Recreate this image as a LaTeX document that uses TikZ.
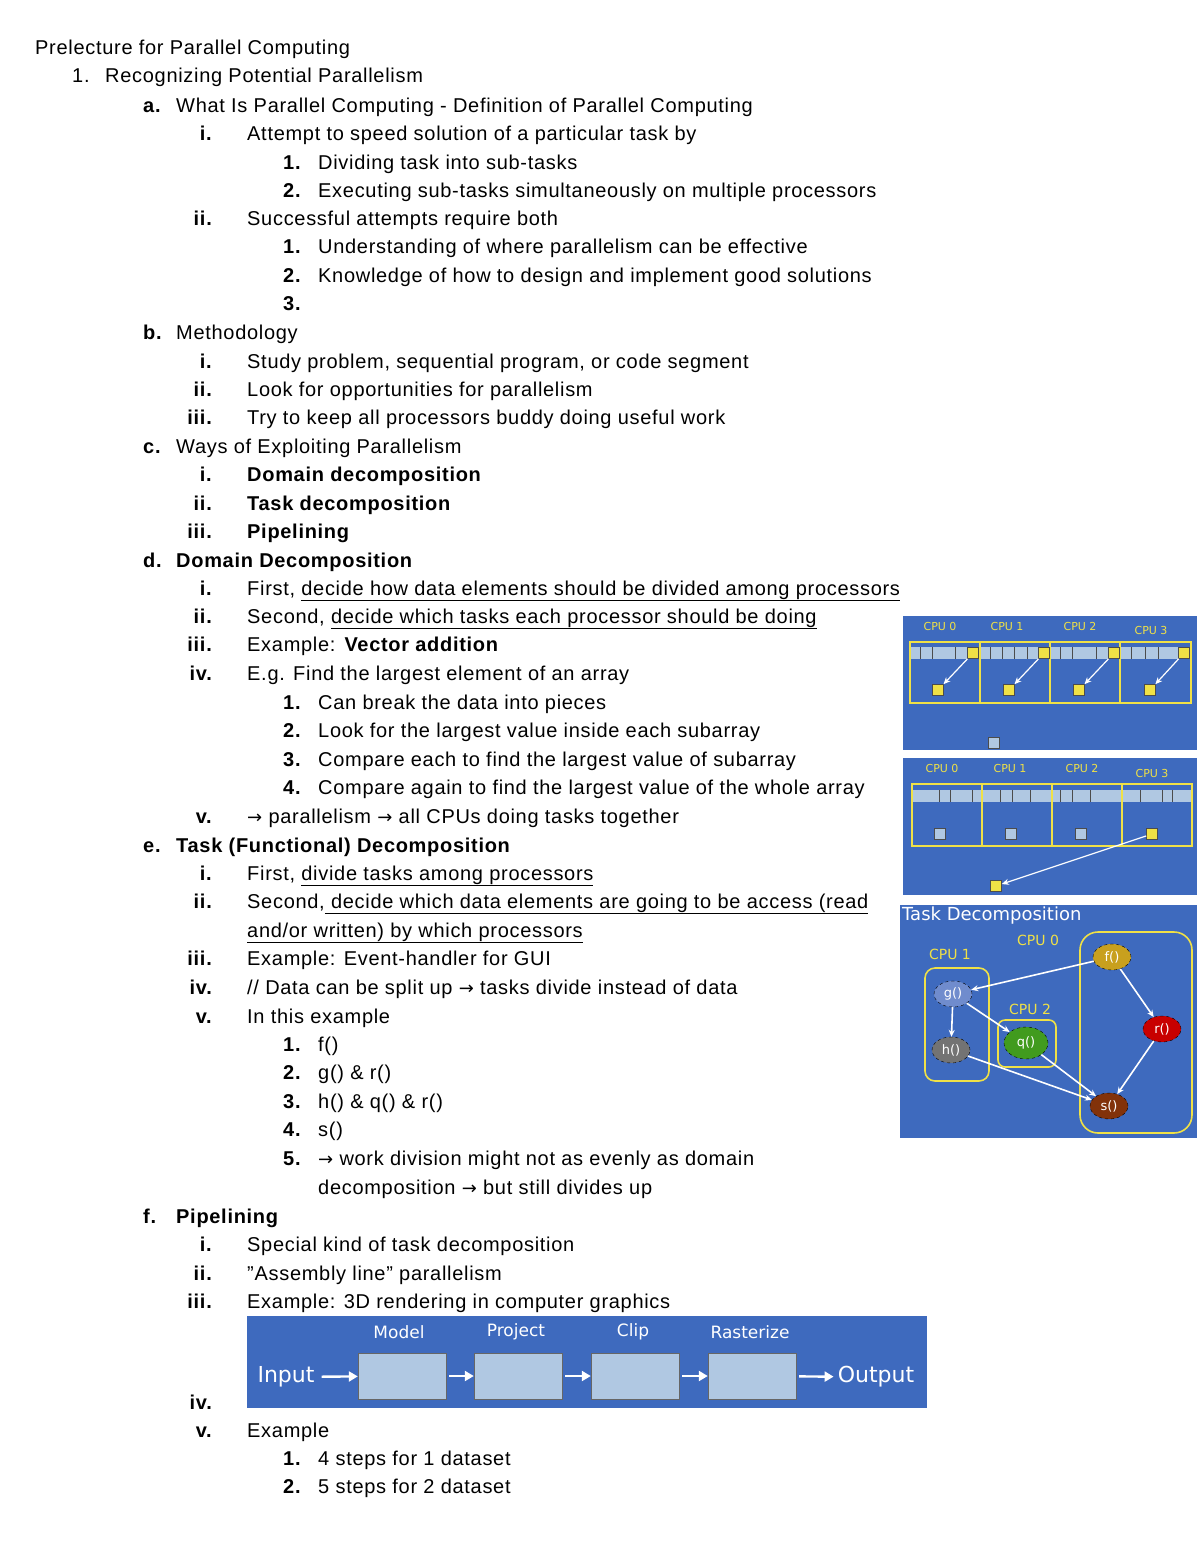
\documentclass[tikz,border=0pt]{standalone}
\usepackage{fontspec}
\setmainfont{Liberation Sans}[LetterSpace=3.5]
\newfontfamily\djv{DejaVu Sans}
\newfontfamily\arw{DejaVu Sans}
\newcommand{\ar}{{\arw\fontsize{18}{20}\selectfont →}}
\usetikzlibrary{arrows.meta,shapes.geometric}
\definecolor{pblue}{RGB}{62,106,190}
\definecolor{lb}{RGB}{176,200,226}
\definecolor{yl}{RGB}{240,225,70}
\tikzset{
 tx/.style={anchor=base west,inner sep=0pt,font=\fontsize{20}{24}\selectfont},
 lr/.style={anchor=base east,inner sep=0pt,font=\fontsize{20}{24}\selectfont\bfseries},
 lw/.style={anchor=base west,inner sep=0pt,font=\fontsize{20}{24}\selectfont\bfseries},
 cpu/.style={text=yl,font=\djv\fontsize{11}{12}\selectfont,inner sep=0pt},
 ybox/.style={draw=yl,line width=1.6pt},
 sq/.style={draw=black!70,fill=yl,minimum size=11pt,inner sep=0pt,line width=0.6pt},
 sqb/.style={draw=black!70,fill=lb,minimum size=11pt,inner sep=0pt,line width=0.6pt},
 war/.style={draw=white,line width=1.6pt,-{Stealth[length=7pt,width=6pt]}},
 par/.style={draw=white,line width=2.4pt,-{Triangle[length=9pt,width=10pt]},shorten <=3pt},
 fn/.style={ellipse,draw=black,dashed,minimum width=38pt,minimum height=26pt,inner sep=0pt,text=white,font=\djv\fontsize{13}{14}\selectfont},
 pbox/.style={draw=black!60,fill=lb,minimum width=88pt,minimum height=46pt,inner sep=0pt},
 plab/.style={text=white,font=\djv\fontsize{17}{18}\selectfont,inner sep=0pt},
}
\newcommand{\Ln}[3]{\node[tx] at (#1,#2) {#3};}
\newcommand{\Rl}[3]{\node[lr] (r#2) at (212,#1) {#3};}
\begin{document}
\begin{tikzpicture}[x=1pt,y=-1pt]
\useasboundingbox (0,0) rectangle (1200,1553);
\fill[white] (0,0) rectangle (1200,1553);
% text
\node[tx] (t0) at (35,54) {Prelecture for Parallel Computing};
\node[tx] (n1) at (72,82) {1.};
\Ln{105}{82}{Recognizing Potential Parallelism}
\node[lw] (la) at (143,112) {a.}; \Ln{176}{112}{What Is Parallel Computing - Definition of Parallel Computing}
\Rl{140}{a1}{i.} \Ln{247}{140}{Attempt to speed solution of a particular task by}
\node[lw] (x1) at (283,169) {1.}; \Ln{318}{169}{Dividing task into sub-tasks}
\node[lw] (x2) at (283,197) {2.}; \Ln{318}{197}{Executing sub-tasks simultaneously on multiple processors}
\Rl{225}{a2}{ii.} \Ln{247}{225}{Successful attempts require both}
\node[lw] (x3) at (283,253) {1.}; \Ln{318}{253}{Understanding of where parallelism can be effective}
\node[lw] (x4) at (283,282) {2.}; \Ln{318}{282}{Knowledge of how to design and implement good solutions}
\node[lw] (x5) at (283,310) {3.};
\node[lw] (lb) at (143,339) {b.}; \Ln{176}{339}{Methodology}
\Rl{368}{b1}{i.} \Ln{247}{368}{Study problem, sequential program, or code segment}
\Rl{396}{b2}{ii.} \Ln{247}{396}{Look for opportunities for parallelism}
\Rl{424}{b3}{iii.} \Ln{247}{424}{Try to keep all processors buddy doing useful work}
\node[lw] (lc) at (143,453) {c.}; \Ln{176}{453}{Ways of Exploiting Parallelism}
\Rl{481}{c1}{i.} \node[lw] at (247,481) {Domain decomposition};
\Rl{510}{c2}{ii.} \node[lw] at (247,510) {Task decomposition};
\Rl{538}{c3}{iii.} \node[lw] at (247,538) {Pipelining};
\node[lw] (ld) at (143,567) {d.}; \node[lw] at (176,567) {Domain Decomposition};
\Rl{595}{d1}{i.} \Ln{247}{595}{First, \underline{decide how data elements should be divided among processors}}
\Rl{623}{d2}{ii.} \Ln{247}{623}{Second, \underline{decide which tasks each processor should be doing}}
\Rl{651}{d3}{iii.} \Ln{247}{651}{Example: \textbf{Vector addition}}
\Rl{680}{d4}{iv.} \Ln{247}{680}{E.g. Find the largest element of an array}
\node[lw] at (283,709) {1.}; \Ln{318}{709}{Can break the data into pieces}
\node[lw] at (283,737) {2.}; \Ln{318}{737}{Look for the largest value inside each subarray}
\node[lw] at (283,766) {3.}; \Ln{318}{766}{Compare each to find the largest value of subarray}
\node[lw] at (283,794) {4.}; \Ln{318}{794}{Compare again to find the largest value of the whole array}
\Rl{823}{d5}{v.} \Ln{247}{823}{\ar{} parallelism \ar{} all CPUs doing tasks together}
\node[lw] (le) at (143,852) {e.}; \node[lw] at (176,852) {Task (Functional) Decomposition};
\Rl{880}{e1}{i.} \Ln{247}{880}{First, \underline{divide tasks among processors}}
\Rl{908}{e2}{ii.} \Ln{247}{908}{Second,\underline{ decide which data elements are going to be access (read}}
\Ln{247}{937}{\underline{and/or written) by which processors}}
\Rl{965}{e3}{iii.} \Ln{247}{965}{Example: Event-handler for GUI}
\Rl{994}{e4}{iv.} \Ln{247}{994}{// Data can be split up \ar{} tasks divide instead of data}
\Rl{1023}{e5}{v.} \Ln{247}{1023}{In this example}
\node[lw] at (283,1051) {1.}; \Ln{318}{1051}{f()}
\node[lw] at (283,1079) {2.}; \Ln{318}{1079}{g() \& r()}
\node[lw] at (283,1108) {3.}; \Ln{318}{1108}{h() \& q() \& r()}
\node[lw] at (283,1136) {4.}; \Ln{318}{1136}{s()}
\node[lw] at (283,1165) {5.}; \Ln{318}{1165}{\ar{} work division might not as evenly as domain}
\Ln{318}{1194}{decomposition \ar{} but still divides up}
\node[lw] (lf) at (143,1223) {f.}; \node[lw] at (176,1223) {Pipelining};
\Rl{1251}{f1}{i.} \Ln{247}{1251}{Special kind of task decomposition}
\Rl{1280}{f2}{ii.} \Ln{247}{1280}{\symbol{34}Assembly line\symbol{34} parallelism}
\Rl{1308}{f3}{iii.} \Ln{247}{1308}{Example: 3D rendering in computer graphics}
\Rl{1409}{f4}{iv.}
\Rl{1437}{f5}{v.} \Ln{247}{1437}{Example}
\node[lw] at (283,1465) {1.}; \Ln{318}{1465}{4 steps for 1 dataset}
\node[lw] at (283,1493) {2.}; \Ln{318}{1493}{5 steps for 2 dataset}
% panel 1
\fill[pblue] (903,616) rectangle (1197,750);
\node[cpu] at (940,626) {CPU 0}; \node[cpu] at (1007,626) {CPU 1};
\node[cpu] at (1080,626) {CPU 2}; \node[cpu] at (1151,630) {CPU 3};
\fill[lb] (910,647) rectangle (1191,659);
\foreach \x in {920,932,955,990,1002,1014,1027,1060,1072,1096,1131,1145,1158}{\draw[black!70] (\x,647)--(\x,659);}
\draw[ybox] (910,642) rectangle (1191,703);
\foreach \x in {980,1050,1120}{\draw[ybox] (\x,642)--(\x,703);}
\foreach \i/\a/\b in {0/973/938,1/1044/1009,2/1114/1079,3/1184/1150}{
 \node[sq] (ta\i) at (\a,653) {};
 \node[sq] (ba\i) at (\b,690) {};
 \draw[war,line width=1.2pt] (ta\i) -- (ba\i);}
\node[sqb] (ga) at (994,743) {};
% panel 2
\fill[pblue] (903,758) rectangle (1197,895);
\node[cpu] at (942,768) {CPU 0}; \node[cpu] at (1010,768) {CPU 1};
\node[cpu] at (1082,768) {CPU 2}; \node[cpu] at (1152,773) {CPU 3};
\fill[lb] (912,790) rectangle (1192,802);
\foreach \x in {939,950,972,1000,1012,1030,1060,1072,1090,1140,1162,1172}{\draw[black!70] (\x,790)--(\x,802);}
\draw[ybox] (912,784) rectangle (1192,846);
\foreach \x in {982,1052,1122}{\draw[ybox] (\x,784)--(\x,846);}
\node[sqb] (p0) at (940,834) {}; \node[sqb] (p1) at (1011,834) {};
\node[sqb] (p2) at (1081,834) {}; \node[sq] (p3) at (1152,834) {};
\node[sq] (pm) at (996,886) {};
\draw[war,line width=1.2pt] (p3) -- (pm);
% panel 3
\fill[pblue] (900,905) rectangle (1197,1138);
\node[anchor=west,text=white,font=\djv\fontsize{18}{19}\selectfont,inner sep=0pt] at (902,916) {Task Decomposition};
\node[cpu,font=\djv\fontsize{14}{15}\selectfont] at (1038,940) {CPU 0};
\node[cpu,font=\djv\fontsize{14}{15}\selectfont] at (950,954) {CPU 1};
\node[cpu,font=\djv\fontsize{14}{15}\selectfont] at (1030,1009) {CPU 2};
\draw[ybox,rounded corners=10pt] (925,968) rectangle (989,1081);
\draw[ybox,rounded corners=7pt] (998,1020) rectangle (1056,1067);
\draw[ybox,rounded corners=18pt] (1080,932) rectangle (1192,1133);
\node[fn,fill={rgb,255:red,200;green,160;blue,30}] (f) at (1112,957) {f()};
\node[fn,fill={rgb,255:red,112;green,140;blue,205}] (g) at (953,994) {g()};
\node[fn,fill=black!55] (h) at (951,1050) {h()};
\node[fn,fill={rgb,255:red,65;green,155;blue,30},minimum width=44pt,minimum height=32pt] (q) at (1026,1043) {q()};
\node[fn,fill={rgb,255:red,200;green,0;blue,0}] (r) at (1162,1029) {r()};
\node[fn,fill={rgb,255:red,130;green,50;blue,10}] (s) at (1109,1106) {s()};
\draw[war] (f) -- (g); \draw[war] (f) -- (r); \draw[war] (g) -- (h);
\draw[war] (g) -- (q); \draw[war] (h) -- (s); \draw[war] (q) -- (s); \draw[war] (r) -- (s);
% pipeline
\fill[pblue] (247,1316) rectangle (927,1408);
\node[plab] at (399,1332) {Model}; \node[plab] at (516,1332) {Project};
\node[plab] at (633,1332) {Clip}; \node[plab] at (750,1332) {Rasterize};
\node[pbox] (m) at (402,1376) {}; \node[pbox] (pj) at (518,1376) {};
\node[pbox] (cl) at (635,1376) {}; \node[pbox] (ra) at (752,1376) {};
\node[plab,font=\djv\fontsize{22}{24}\selectfont,inner xsep=4pt] (in) at (286,1377) {Input};
\node[plab,font=\djv\fontsize{22}{24}\selectfont,inner xsep=4pt] (out) at (876,1377) {Output};
\draw[par] (in) -- (m); \draw[par] (m) -- (pj);
\draw[par] (pj) -- (cl); \draw[par] (cl) -- (ra);
\draw[par] (ra) -- (out);
\end{tikzpicture}
\end{document}
